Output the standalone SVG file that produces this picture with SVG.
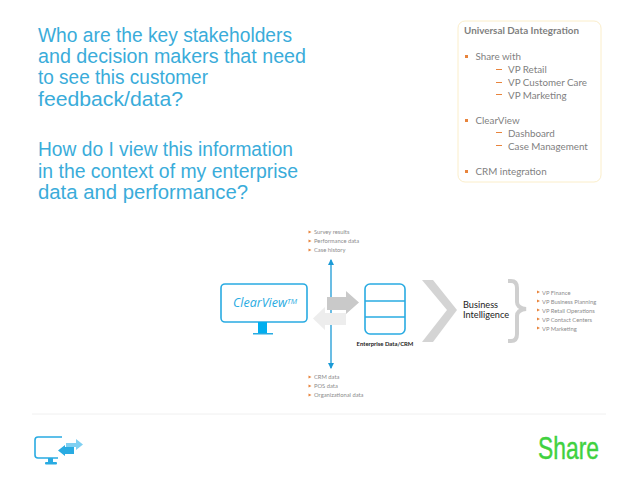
<svg xmlns="http://www.w3.org/2000/svg" width="638" height="478" viewBox="0 0 638 478">
<style>
.h{font-family:"Liberation Sans",Arial,sans-serif;font-size:19.700px;fill:#3aacda}
.c{font-family:Lato,"Open Sans",sans-serif;fill:#7f7f7f}
.b{font-size:9.800px}
.s{font-size:5.800px;fill:#8c8c8c}
.o{fill:#e8843c}
.d{font-family:Lato,"Open Sans",sans-serif;fill:#222}
.line{fill:none;stroke:#29abe2;stroke-width:1.600}
</style>
<defs>
<marker id="a" viewBox="0 0 6 6" refX="5" refY="3" markerWidth="5" markerHeight="5" orient="auto-start-reverse"><path d="M0 0L6 3L0 6z" fill="#1b9ad6"/></marker>
<path id="t" d="M0 -1.500L3 0L0 1.500z" fill="#e8843c"/>
</defs>
<rect width="638" height="478" fill="#fff"/>
<g id="title">
<text class="h" x="38" y="41.500" textLength="254" lengthAdjust="spacingAndGlyphs">Who are the key stakeholders</text>
<text class="h" x="38" y="63" textLength="268" lengthAdjust="spacingAndGlyphs">and decision makers that need</text>
<text class="h" x="38" y="84" textLength="170" lengthAdjust="spacingAndGlyphs">to see this customer</text>
<text class="h" x="38" y="105.500" textLength="145" lengthAdjust="spacingAndGlyphs">feedback/data?</text>
<text class="h" x="38" y="156" textLength="255" lengthAdjust="spacingAndGlyphs">How do I view this information</text>
<text class="h" x="38" y="177.500" textLength="260" lengthAdjust="spacingAndGlyphs">in the context of my enterprise</text>
<text class="h" x="38" y="198.500" textLength="210" lengthAdjust="spacingAndGlyphs">data and performance?</text>
</g>
<g id="panel">
<rect x="458" y="21" width="143" height="161" rx="7" fill="#fff" stroke="#fbeeca" stroke-width="1"/>
<text class="c b" x="464" y="34" font-weight="700" textLength="115" lengthAdjust="spacingAndGlyphs">Universal Data Integration</text>
<rect class="o" x="465" y="55" width="3" height="3"/><text class="c b" x="475.500" y="60">Share with</text>
<rect class="o" x="496" y="69" width="6" height="1"/><text class="c b" x="508" y="73">VP Retail</text>
<rect class="o" x="496" y="82" width="6" height="1"/><text class="c b" x="508" y="86">VP Customer Care</text>
<rect class="o" x="496" y="94" width="6" height="1"/><text class="c b" x="508" y="99">VP Marketing</text>
<rect class="o" x="465" y="119" width="3" height="3"/><text class="c b" x="475.500" y="124">ClearView</text>
<rect class="o" x="496" y="132" width="6" height="1"/><text class="c b" x="508" y="137">Dashboard</text>
<rect class="o" x="496" y="145" width="6" height="1"/><text class="c b" x="508" y="150">Case Management</text>
<rect class="o" x="465" y="170" width="3" height="3"/><text class="c b" x="475.500" y="175">CRM integration</text>
</g>
<g id="connectors">
<line x1="331" y1="260" x2="331" y2="368" stroke="#1b9ad6" stroke-width="1.300" marker-start="url(#a)" marker-end="url(#a)"/>
<path d="M327 297H346V291L359 302.500L346 314V310H327z" fill="#c9c9c9"/>
<path d="M346 313H325V307L313 318.500L325 330V325H346z" fill="#ededed"/>
<path d="M422 280H433L457 310L433 342H422L447 310z" fill="#d4d4d4"/>
</g>
<g id="clearview">
<rect class="line" x="221" y="284" width="86" height="38" rx="4"/>
<rect x="258" y="322" width="9" height="12" fill="#00aeef"/>
<rect x="253" y="333" width="20" height="1.500" fill="#29abe2"/>
<text x="233" y="307" font-family="'Open Sans','Noto Sans',sans-serif" font-size="12.500" font-style="italic" fill="#29abe2">ClearView<tspan font-size="7.500" dy="-3">TM</tspan></text>
</g>
<g id="enterprise">
<rect class="line" x="365" y="284" width="40" height="50" rx="5"/>
<line class="line" x1="365" y1="301" x2="405" y2="301"/>
<line class="line" x1="365" y1="317" x2="405" y2="317"/>
<text class="d" x="385" y="346" font-size="5.900" font-weight="700" text-anchor="middle">Enterprise Data/CRM</text>
</g>
<g id="top-list">
<use href="#t" x="308.500" y="232"/><text class="c s" x="314" y="234">Survey results</text>
<use href="#t" x="308.500" y="241"/><text class="c s" x="314" y="243">Performance data</text>
<use href="#t" x="308.500" y="250"/><text class="c s" x="314" y="252">Case history</text>
</g>
<g id="bottom-list">
<use href="#t" x="308.500" y="377"/><text class="c s" x="314" y="379">CRM data</text>
<use href="#t" x="308.500" y="386"/><text class="c s" x="314" y="388">POS data</text>
<use href="#t" x="308.500" y="395"/><text class="c s" x="314" y="397">Organizational data</text>
</g>
<g id="bi">
<text class="d" x="463" y="308" font-size="9.200">Business</text>
<text class="d" x="463" y="317.500" font-size="9.200">Intelligence</text>
</g>
<g id="brace">
<path d="M508 281H511Q517 281 517 288V302Q517 308 526 309Q517 310 517 316V334Q517 341 511 341H508" fill="none" stroke="#cfcfcf" stroke-width="4"/>
</g>
<g id="vp-list">
<use href="#t" x="537" y="292"/><text class="c s" x="542" y="295">VP Finance</text>
<use href="#t" x="537" y="301"/><text class="c s" x="542" y="304">VP Business Planning</text>
<use href="#t" x="537" y="310"/><text class="c s" x="542" y="313">VP Retail Operations</text>
<use href="#t" x="537" y="319"/><text class="c s" x="542" y="322">VP Contact Centers</text>
<use href="#t" x="537" y="328"/><text class="c s" x="542" y="331">VP Marketing</text>
</g>
<line x1="32" y1="414" x2="606" y2="414" stroke="#f0f0f0"/>
<g id="icon">
<path d="M62 437H38Q35 437 35 440V455Q35 458 38 458H58" fill="none" stroke="#29abe2" stroke-width="1.600"/>
<rect x="48" y="458" width="5" height="4" fill="#29abe2"/>
<rect x="45" y="462" width="12" height="2.500" rx="1" fill="#29abe2"/>
<path d="M66 443H76V439L83 444.500L76 450V447H66z" fill="#7fd0f2"/>
<path d="M74 447H65V445L58 450.500L65 456V454H74z" fill="#29abe2"/>
</g>
<g id="share">
<text x="538" y="459" font-family="'Liberation Sans Narrow','Liberation Sans',sans-serif" font-size="30.500" fill="#3fd13f" stroke="#3fd13f" stroke-width="0.400" textLength="61" lengthAdjust="spacingAndGlyphs">Share</text>
</g>
</svg>
